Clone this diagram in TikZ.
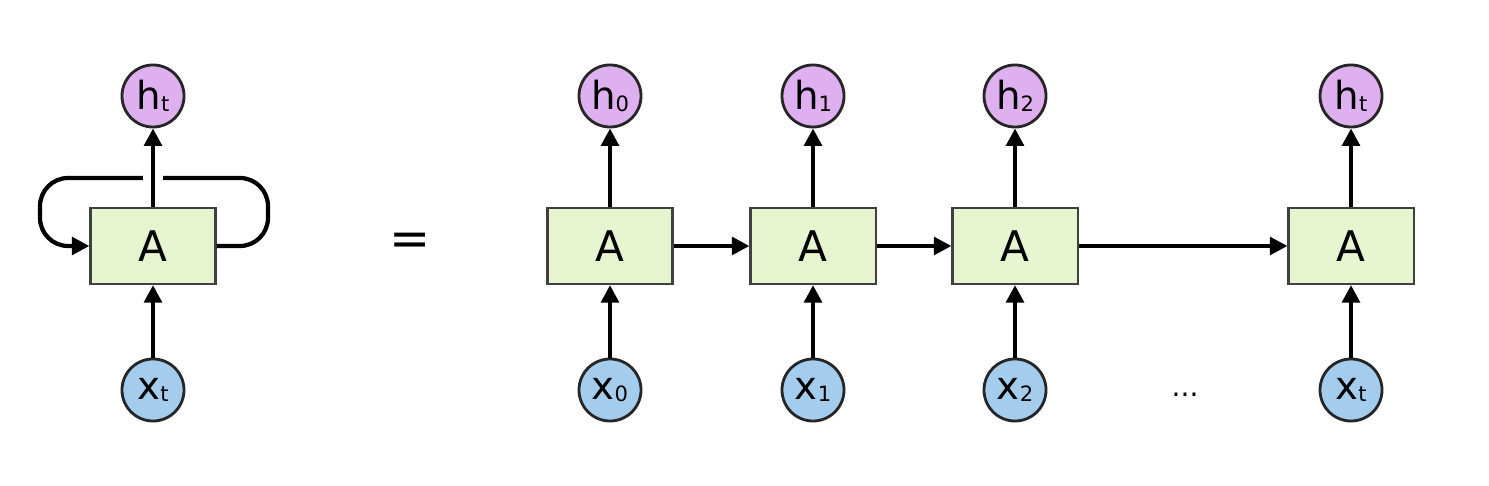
\documentclass[tikz,border=0pt]{standalone}
\usepackage{fontspec}
\setmainfont{DejaVu Sans}
\usetikzlibrary{arrows.meta}
\begin{document}
\begin{tikzpicture}[x=0.01cm,y=-0.01cm,
  cell/.style={draw=black!75,line width=0.6pt,fill={rgb,255:red,230;green,245;blue,208},minimum width=1.25cm,minimum height=0.76cm,inner sep=0pt,font=\fontsize{12}{12}\selectfont},
  hnode/.style={circle,draw=black!85,line width=0.8pt,fill={rgb,255:red,222;green,176;blue,240},minimum size=0.62cm,inner sep=0pt,font=\fontsize{11}{11}\selectfont},
  xnode/.style={circle,draw=black!85,line width=0.8pt,fill={rgb,255:red,164;green,204;blue,236},minimum size=0.62cm,inner sep=0pt,font=\fontsize{11}{11}\selectfont},
  conn/.style={line width=1.2pt,-{Triangle[length=5pt,width=5pt]}}]
\useasboundingbox (0,0) rectangle (1489,486);
\newcommand{\sbs}[1]{\raisebox{-0.5pt}{\fontsize{6}{6}\selectfont #1}}
% left cell
\node[cell] (A) at (153,246) {A};
\node[hnode] (h) at (153,96) {h\sbs{t}};
\node[xnode] (x) at (153,390) {x\sbs{t}};
\coordinate (r1) at (268,246);
\coordinate (l1) at (40,246);
\draw[conn,rounded corners=8pt] (A.east) -- (268,246) -- (268,178) -- (40,178) -- (40,246) -- (A.west);
\fill[white] (143,172) rectangle (163,184);
\draw[conn] (x) -- (A);
\draw[conn] (A) -- (h);
\node[font=\fontsize{14}{14}\selectfont] (eq) at (410,244) {=};
% unrolled
\foreach \n/\xx/\s in {0/610/0,1/813/1,2/1015/2,3/1351/t}{
  \node[cell] (A\n) at (\xx,246) {A};
  \node[hnode] (h\n) at (\xx,96) {h\sbs{\s}};
  \node[xnode] (x\n) at (\xx,390) {x\sbs{\s}};
  \draw[conn] (x\n) -- (A\n);
  \draw[conn] (A\n) -- (h\n);
}
\draw[conn] (A0) -- (A1);
\draw[conn] (A1) -- (A2);
\draw[conn] (A2) -- (A3);
\node[font=\fontsize{8}{8}\selectfont] (dots) at (1185,395) {...};
\end{tikzpicture}
\end{document}
